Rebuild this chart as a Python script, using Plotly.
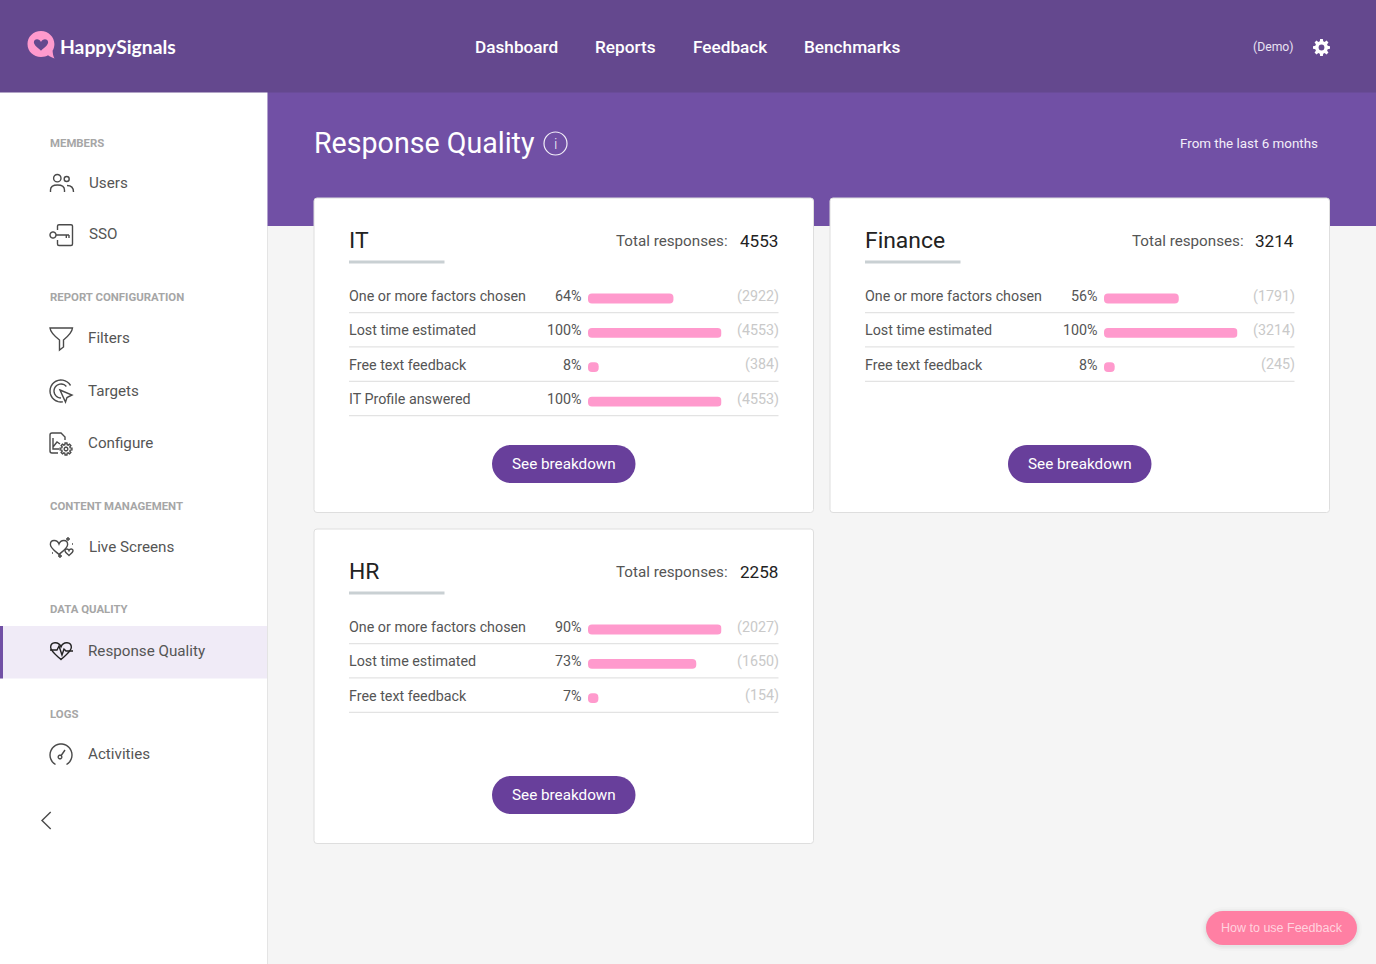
import math
import plotly.graph_objects as go

# card contents
it_labels = ["One or more factors chosen", "Lost time estimated", "Free text feedback", "IT Profile answered"]
it_pct = [64, 100, 8, 100]
it_counts = [2922, 4553, 384, 4553]
it_total = 4553

finance_labels = ["One or more factors chosen", "Lost time estimated", "Free text feedback"]
finance_pct = [56, 100, 8]
finance_counts = [1791, 3214, 245]
finance_total = 3214

hr_labels = ["One or more factors chosen", "Lost time estimated", "Free text feedback"]
hr_pct = [90, 73, 7]
hr_counts = [2027, 1650, 154]
hr_total = 2258

nav_items = ["Dashboard", "Reports", "Feedback", "Benchmarks"]
menu_headers = ["MEMBERS", "REPORT CONFIGURATION", "CONTENT MANAGEMENT", "DATA QUALITY", "LOGS"]
menu_items = ["Users", "SSO", "Filters", "Targets", "Configure", "Live Screens", "Response Quality", "Activities"]

FONT = "Roboto"
HEADER = "#64488E"
BAND = "#7150A5"
BTN = "#683F9B"
PINK = "#FF9ACD"
TXT = "#555555"
ICON = "#4A4A4A"

fig = go.Figure()
shapes = []
notes = []


def rect(x0, y0, x1, y1, fill, line=None, lw=1):
    shapes.append(dict(type="rect", xref="x", yref="y", x0=x0, y0=y0, x1=x1, y1=y1, layer="below",
                       fillcolor=fill, line=dict(color=line, width=lw if line else 0)))


def path(d, color=ICON, lw=1.4, fill=None):
    shapes.append(dict(type="path", xref="x", yref="y", path=d, layer="below",
                       fillcolor=fill or "rgba(0,0,0,0)", line=dict(color=color, width=lw)))


def rrect(x0, y0, x1, y1, r, fill, line=None, lw=1):
    d = (f"M{x0 + r} {y0} H{x1 - r} Q{x1} {y0} {x1} {y0 + r} V{y1 - r} Q{x1} {y1} {x1 - r} {y1} "
         f"H{x0 + r} Q{x0} {y1} {x0} {y1 - r} V{y0 + r} Q{x0} {y0} {x0 + r} {y0} Z")
    shapes.append(dict(type="path", xref="x", yref="y", path=d, layer="below", fillcolor=fill,
                       line=dict(color=line or fill, width=lw if line else 0)))


def pill(x0, y0, x1, y1, fill):
    r = (y1 - y0) / 2
    k = r * 0.55
    d = (f"M{x0 + r} {y0} H{x1 - r} C{x1 - r + k} {y0} {x1} {y0 + r - k} {x1} {y0 + r} "
         f"C{x1} {y0 + r + k} {x1 - r + k} {y1} {x1 - r} {y1} H{x0 + r} "
         f"C{x0 + r - k} {y1} {x0} {y0 + r + k} {x0} {y0 + r} C{x0} {y0 + r - k} {x0 + r - k} {y0} {x0 + r} {y0} Z")
    shapes.append(dict(type="path", xref="x", yref="y", path=d, layer="below", fillcolor=fill, line=dict(width=0)))


def arc(cx, cy, r, a0, a1):
    # polyline arc, angles in degrees
    n = max(6, int(abs(a1 - a0) / 12))
    pts = []
    for i in range(n + 1):
        a = math.radians(a0 + (a1 - a0) * i / n)
        pts.append(f"{cx + r * math.cos(a):.2f} {cy + r * math.sin(a):.2f}")
    return "M" + " L".join(pts)


def heart(cx, cy, s):
    return (f"M{cx} {cy + s} C{cx - s * 0.5} {cy + s * 0.55} {cx - s * 1.15} {cy + s * 0.1} {cx - s * 1.15} {cy - s * 0.35} "
            f"C{cx - s * 1.15} {cy - s * 1.0} {cx - s * 0.25} {cy - s * 1.05} {cx} {cy - s * 0.4} "
            f"C{cx + s * 0.25} {cy - s * 1.05} {cx + s * 1.15} {cy - s * 1.0} {cx + s * 1.15} {cy - s * 0.35} "
            f"C{cx + s * 1.15} {cy + s * 0.1} {cx + s * 0.5} {cy + s * 0.55} {cx} {cy + s} Z")


def gear(cx, cy, ro, ri, teeth):
    pts = []
    step = 360 / teeth
    for i in range(teeth):
        base = i * step
        for off, r in [(-0.34, ri), (-0.2, ro), (0.2, ro), (0.34, ri)]:
            a = math.radians(base + off * step)
            pts.append(f"{cx + r * math.cos(a):.2f} {cy + r * math.sin(a):.2f}")
    return "M" + " L".join(pts) + " Z"


def text(x, y, s, size=15, color=TXT, anchor="left", weight=None, family=FONT):
    notes.append(dict(xref="x", yref="y", x=x, y=y, text=s, showarrow=False, xanchor=anchor, yanchor="middle",
                      align=anchor, borderpad=0, borderwidth=0,
                      font=dict(family=family, size=size, color=color, weight=weight)))


# page background, the header goes on last so its edge leaves no seam
rect(0, 0, 1376, 964, "#F5F5F5")
rect(0, 85, 267, 964, "#FFFFFF")
shapes.append(dict(type="line", xref="x", yref="y", x0=267.5, x1=267.5, y0=226, y1=964, layer="below",
                   line=dict(color="#E4E4E4", width=1)))
rect(267.5, 85, 1376, 226, BAND)
rect(0, 0, 1376, 92.5, HEADER)

# logo
path("M41 31 C33 31 27.5 37 27.5 44 C27.5 51.5 33.5 57 41 57 C44 57 46.5 56.3 48 55.3 C50 56.5 52 57.8 54.5 58.5 "
     "C53 56 52.8 53 52.6 50.8 C53.8 48.8 54.4 46.5 54.4 44 C54.4 37 48.5 31 41 31 Z", PINK, 0, PINK)
path(heart(41, 44.5, 6.2), HEADER, 0, HEADER)
text(60, 46, "HappySignals", 19.3, "#FFFFFF", weight=700, family="Lato")

for x, s in zip([475, 595, 693, 804], nav_items):
    text(x, 46.5, s, 17.2, "#FFFFFF", weight=500)
text(1253, 46.5, "(Demo)", 12.2, "#E9E2F2")
path(gear(1321.5, 47.5, 8.6, 6.4, 8), "#FFFFFF", 0, "#FFFFFF")
shapes.append(dict(type="circle", xref="x", yref="y", x0=1318.6, x1=1324.4, y0=44.6, y1=50.4, layer="below",
                   fillcolor=HEADER, line=dict(width=0)))

# sidebar
for y, s in zip([143, 297, 506, 609, 714], menu_headers):
    text(50, y, s, 11.4, "#A6A6A6", weight=700)
rect(0, 626, 267, 678.5, "#F0EBF7")
rect(0, 626, 3, 678.5, BAND)
for (x, y), s in zip([(89, 183), (89, 234), (88, 338), (88, 391), (88, 443), (89, 547), (88, 651), (88, 754)], menu_items):
    text(x, y, s, 15.2, TXT)

# users
shapes.append(dict(type="circle", xref="x", yref="y", x0=53.6, x1=61, y0=174.5, y1=181.9, layer="below", line=dict(color=ICON, width=1.4)))
shapes.append(dict(type="circle", xref="x", yref="y", x0=64.2, x1=69.2, y0=176.5, y1=181.5, layer="below", line=dict(color=ICON, width=1.4)))
path("M50.5 192 V190 Q50.5 185 57.5 185 Q64.5 185 64.5 190 V192", lw=1.4)
path("M67 185.5 Q73.5 185.5 73.5 192", lw=1.4)
# sso
path("M57.5 230 V226 Q57.5 224.7 59 224.7 H71 Q72.5 224.7 72.5 226 V244 Q72.5 245.5 71 245.5 H59 Q57.5 245.5 57.5 244 V240")
path(arc(53, 235, 3, 0, 360) + " M56 235 H69 M66.3 235 V238 M69 235 V238")
# filters
path("M50 328 H72.5 Q72 333 63.5 340 V347 L59.5 350 V340 Q50.5 333 50 328 Z")
# targets
path(arc(61, 391, 11, 80, 330))
path(arc(61, 391, 7, 90, 320))
path("M60 390 L72 395 L67 397.5 L65.5 402 Z")
# configure
path("M65 440 V437 L61 433 H52 Q50 433 50 435 V451 Q50 453 52 453 H58")
path("M53 438 V449 H59 M53 447 L57 442 L60 444")
path(gear(66, 449, 6, 4.4, 8))
path(arc(66, 449, 1.8, 0, 360))
# live screens
path(heart(59, 547, 7.5))
path(heart(69, 552, 3.5))
path("M68 537 V541 M66 539 H70 M60 554 V558 M58 556 H62 M52 553 H53 M72 544 H73")
# response quality
path(heart(61, 650.5, 9), "#222222")
path("M50 650 H57 L59 646 L62 655 L64 649 L66 651 H73", "#222222", 1.4)
# activities
path(arc(61, 755, 11, 120, 420))
path(arc(60, 757, 1.8, 0, 360) + " M61.2 755.5 L65 750")
# collapse arrow
path("M50.7 812 L42 820.5 L50.7 829", ICON, 1.4)

# title band
text(314, 143, "Response Quality", 28.6, "#FFFFFF")
shapes.append(dict(type="circle", xref="x", yref="y", x0=544, x1=567, y0=132, y1=155, layer="below",
                   line=dict(color="#F2EEF8", width=1.2)))
text(555.5, 143.5, "i", 15, "#F2EEF8", anchor="center", weight=300)
text(1318, 143.5, "From the last 6 months", 13.4, "#F3EEF9", anchor="right")

# cards
cards = [
    ("IT", 314, 198, it_labels, it_pct, it_counts, it_total),
    ("Finance", 830, 198, finance_labels, finance_pct, finance_counts, finance_total),
    ("HR", 314, 529, hr_labels, hr_pct, hr_counts, hr_total),
]
layout_axes = {}
ROW = 34.35
TRACK_PX = 133.5
for i, (name, cx, cy, labels, pct, counts, total) in enumerate(cards):
    rrect(cx, cy, cx + 499.5, cy + 314.5, 3, "#FFFFFF", "#DEDEDE", 1)
    text(cx + 35, cy + 42.3, name, 22.9, "#222222")
    rect(cx + 35, cy + 62.5, cx + 130.5, cy + 65.5, "#C9D0D3")
    text(cx + 414, cy + 43, "Total responses:", 15.2, "#555555", anchor="right")
    text(cx + 464, cy + 42.6, str(total), 17.1, "#222222", anchor="right")
    for j, lab in enumerate(labels):
        ry = cy + 98 + j * ROW
        text(cx + 35, ry, lab, 14.3, TXT)
        text(cx + 268, ry, f"{pct[j]}%", 14.3, TXT, anchor="right")
        text(cx + 464.5, ry, f"({counts[j]})", 14.3, "#C9C9C9", anchor="right")
        sy = ry + 16.6
        shapes.append(dict(type="line", xref="x", yref="y", x0=cx + 35, x1=cx + 464.5, y0=sy, y1=sy, layer="below",
                           line=dict(color="#E3E3E3", width=1.3)))
    pill(cx + 178, cy + 247, cx + 321.5, cy + 285, BTN)
    text(cx + 249.7, cy + 266.3, "See breakdown", 15.25, "#FFFFFF", anchor="center")

    # bars, scaled so that the largest value of the card fills the track.
    # a tiny base makes plotly round both ends of the bar
    n = i + 2
    top = cy + 100.5 - ROW / 2
    bottom = top + ROW * len(labels)
    fig.add_trace(go.Bar(x=pct, base=[1e-6] * len(pct), y=labels, orientation="h",
                         marker=dict(color=PINK, cornerradius=4.8, line=dict(width=0)),
                         width=0.285, xaxis=f"x{n}", yaxis=f"y{n}", hoverinfo="skip", showlegend=False))
    layout_axes[f"xaxis{n}"] = dict(domain=[(cx + 274) / 1376, (cx + 274 + TRACK_PX) / 1376], range=[0, max(pct)],
                                    visible=False, fixedrange=True, anchor=f"y{n}")
    layout_axes[f"yaxis{n}"] = dict(domain=[1 - bottom / 964, 1 - top / 964], type="category", categoryorder="array",
                                    categoryarray=labels, range=[len(labels) - 0.5, -0.5], visible=False,
                                    fixedrange=True, anchor=f"x{n}")

# feedback button
for grow, alpha in [(5, 0.012), (3, 0.02), (1.5, 0.03)]:
    pill(1206 - grow, 911 - grow + 1, 1357 + grow, 945 + grow + 1, f"rgba(0,0,0,{alpha})")
pill(1206, 911, 1357, 945, "#FF7FA3")
text(1281.5, 927.5, "How to use Feedback", 12.5, "#FFD3DF", anchor="center", family="Liberation Sans")

# page axes hold all the drawn furniture, in screen pixels
fig.add_trace(go.Scatter(x=[None], y=[None], xaxis="x", yaxis="y", showlegend=False, hoverinfo="skip"))
fig.update_layout(
    width=1376,
    height=964,
    margin=dict(l=0, r=0, t=0, b=0),
    paper_bgcolor="#F5F5F5",
    plot_bgcolor="rgba(0,0,0,0)",
    showlegend=False,
    xaxis=dict(domain=[0, 1], range=[0, 1376], visible=False, fixedrange=True),
    yaxis=dict(domain=[0, 1], range=[964, 0], visible=False, fixedrange=True),
    shapes=shapes,
    annotations=notes,
    **layout_axes,
)

fig.write_html("out.html", config=dict(displayModeBar=False), post_script="document.body.style.margin='0';")
